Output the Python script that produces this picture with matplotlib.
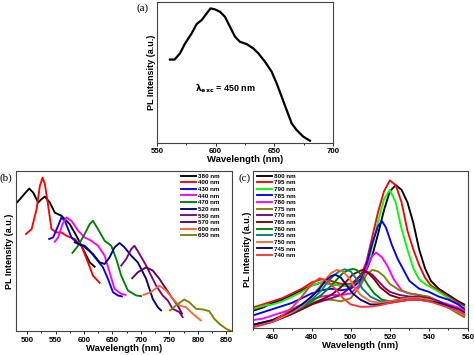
import matplotlib
matplotlib.use('Agg')
import matplotlib.pyplot as plt
from matplotlib.ticker import MultipleLocator

plt.rcParams['font.family'] = ['Liberation Sans', 'DejaVu Sans']
plt.rcParams['font.weight'] = 'bold'
plt.rcParams['mathtext.fontset'] = 'dejavusans'

# ---- panel (a): PL spectrum, excitation 450 nm ----
a_wl = [561, 565, 569.6, 573.9, 579.5, 583.8, 588.1, 592.3, 595.7, 599.4, 603.7, 607.9,
        612.2, 616.5, 620.7, 626.4, 632.1, 636.4, 642.1, 647.7, 652, 656.3, 660.5,
        664.8, 669, 674.7, 680.4]
a_pl = [59, 59, 63.4, 70.4, 77.5, 84.2, 87, 91.7, 95.3, 94.6, 92.9, 89.4,
        82.3, 75.2, 71.6, 70, 66.9, 63.4, 57.4, 50.4, 42.1, 32.6, 23.2,
        13.7, 9, 4.3, 1.4]

# ---- panel (b): PL spectra at different excitation wavelengths ----
b_labels = ['380 nm', '400 nm', '430 nm', '440 nm', '470 nm', '520 nm',
            '550 nm', '570 nm', '600 nm', '650 nm']
b_colors = ['#000000', '#ff0000', '#0000ff', '#ff00ff', '#008000', '#000080',
            '#800080', '#5c005c', '#ff6633', '#808000']
b_wl = [
    [480, 487.5, 496.3, 503.8, 510.8, 519.6, 525.4, 531.2, 540, 548.7, 560.4, 575, 586.7, 598.3, 610, 618.7],
    [498, 508, 516.7, 522.5, 527.2, 531.3, 537.1, 542.9, 551.7, 560.4, 569.2, 583.7, 595.4, 607, 615.8, 627.5],
    [538.8, 545.8, 554.6, 560.4, 566.2, 572.1, 577.9, 589.6, 601.2, 610, 621.7, 633.3, 642.1, 650.8, 659.6, 666.6],
    [548.7, 554.6, 562.2, 569.2, 577.9, 589.6, 601.2, 612.9, 624.6, 636.2, 645, 653.7, 665.4, 673],
    [579.7, 589.6, 601.2, 610, 615.8, 624.6, 636.2, 647.9, 656.7, 665.4, 677.1, 691.7, 700.4],
    [583.7, 598.3, 615.8, 627.5, 636.2, 645, 653.7, 662.5, 671.2, 682.9, 694.6, 709.2, 720.8, 729.6, 735.4],
    [665.4, 674.2, 682.9, 688.7, 697.5, 709.2, 717.9, 726.7, 738.3, 747.1, 755.8, 767.5, 773.3],
    [684.7, 694.6, 709.2, 720.8, 732.5, 744.2, 755.8, 764.6, 772.2],
    [704.5, 717.9, 732.5, 744.2, 755.8, 767.5, 779.2, 790.8, 805.4],
    [751.2, 761.7, 776.2, 785, 796.7, 808.3, 820, 828.7, 837.5, 849.2, 858],
]
b_pl = [
    [79.5, 82.4, 86.1, 89, 86.5, 80.3, 82.4, 84, 80.3, 74, 72, 66.8, 59.5, 51.2, 42.9, 40.2],
    [60.6, 63.7, 76.1, 90.7, 95.9, 91.7, 78.2, 63.7, 61.6, 61.6, 59.5, 57.5, 53.3, 42.9, 34.6, 30.1],
    [57.5, 58.5, 65.8, 71, 68.9, 63.7, 58.5, 54.4, 53.3, 50.2, 45, 39.8, 32.6, 24.3, 22.2, 21.6],
    [55.8, 58.5, 66.8, 71, 68.9, 62.7, 58.5, 56.4, 53.3, 47.1, 36.7, 26.3, 23.2, 22.6],
    [48.8, 53.3, 60.6, 66.8, 68.9, 63.7, 56.4, 53.3, 45, 34.6, 25.3, 22.2, 21.8],
    [55.4, 53.3, 48.1, 42.9, 41.9, 46.1, 52.3, 55, 52.3, 47.1, 42.9, 32.6, 20.1, 14.9, 12.9],
    [40.9, 45, 51.2, 53.3, 48.1, 40.9, 34.6, 28.4, 22.2, 19.1, 13.9, 11.8, 8.7],
    [33, 36.7, 39.8, 37.8, 32.6, 26.3, 20.1, 16, 10.8],
    [22.6, 24.3, 28.4, 25.3, 20.1, 16, 14.9, 10.8, 6.6],
    [12.9, 16, 19.7, 18, 13.9, 13.5, 12.4, 7.7, 4.6, 1.5, 0],
]

# ---- panel (c): PL spectra, excitation 740-800 nm ----
c_labels = ['800 nm', '795 nm', '790 nm', '785 nm', '780 nm', '775 nm', '770 nm',
            '765 nm', '760 nm', '755 nm', '750 nm', '745 nm', '740 nm']
c_colors = ['#000000', '#ff0000', '#00ff00', '#0000ff', '#ff00ff', '#808000', '#800080',
            '#800000', '#008000', '#008080', '#ff6633', '#000080', '#ff3333']
c_wl = [
    [450, 455, 460, 465, 470, 475, 480, 485, 490, 495, 500, 505, 508, 511, 514, 517, 520, 523, 526, 529, 532, 535, 538, 541, 545, 550, 555, 558],
    [450, 455, 460, 465, 470, 475, 480, 485, 490, 495, 500, 505, 508, 511, 514, 517, 520, 523, 526, 529, 532, 535, 538, 541, 545, 550, 555, 558],
    [450, 455, 460, 465, 470, 475, 480, 485, 490, 495, 500, 505, 508, 511, 514, 517, 520, 523, 526, 529, 532, 535, 538, 541, 545, 550, 555, 558],
    [450, 455, 460, 465, 470, 475, 480, 485, 490, 495, 500, 505, 508, 511, 514, 516, 518, 521, 524, 527, 530, 535, 540, 545, 550, 555, 558],
    [450, 455, 460, 465, 470, 475, 480, 485, 490, 495, 500, 505, 508, 511, 513, 516, 519, 522, 526, 530, 535, 540, 545, 550, 555, 558],
    [450, 460, 470, 475, 480, 485, 490, 495, 500, 505, 508, 511, 514, 517, 520, 525, 530, 535, 540, 545, 550, 555, 558],
    [450, 460, 470, 475, 480, 485, 490, 495, 500, 503, 506, 508, 511, 514, 517, 520, 525, 530, 535, 540, 545, 550, 555, 558],
    [450, 460, 470, 475, 480, 485, 490, 495, 498, 501, 504, 506, 509, 512, 515, 520, 525, 530, 535, 540, 545, 550, 555, 558],
    [450, 460, 470, 475, 480, 485, 490, 493, 496, 499, 501, 503, 506, 509, 512, 516, 520, 525, 530, 535, 540, 545, 550, 555, 558],
    [450, 460, 470, 475, 480, 485, 488, 491, 494, 497, 500, 503, 506, 510, 515, 520, 525, 530, 535, 540, 545, 550, 555, 558],
    [450, 460, 470, 475, 480, 484, 487, 490, 493, 496, 499, 502, 505, 510, 515, 520, 525, 530, 535, 540, 545, 550, 555, 558],
    [450, 460, 470, 475, 480, 484, 487, 490, 492, 495, 498, 501, 505, 510, 515, 520, 525, 530, 535, 540, 545, 550, 555, 558],
    [450, 455, 460, 465, 470, 475, 480, 484, 488, 492, 496, 500, 505, 510, 515, 520, 525, 530, 535, 540, 545, 550, 555, 558],
]
c_pl = [
    [11, 13, 16, 18, 21, 24, 27, 29, 28, 27, 27, 31, 37, 46, 60, 75, 87, 91, 88, 80, 67, 50, 38, 30, 25, 21, 17, 15],
    [13, 15, 17, 19, 22, 25, 29, 31, 30, 28, 28, 33, 42, 58, 74, 87, 94, 91, 80, 62, 50, 40, 32, 27, 24, 20, 16, 14],
    [12, 14, 15, 17, 20, 23, 27, 29, 28, 27, 27, 30, 38, 52, 68, 82, 88, 80, 63, 50, 38, 31, 28, 26, 23, 19, 15, 13],
    [8, 10, 12, 14, 16, 19, 22, 24, 25, 24, 25, 30, 40, 54, 65, 68, 64, 53, 44, 37, 30, 25, 23, 20, 18, 15, 12],
    [5, 6, 8, 10, 12, 15, 18, 20, 21, 21, 22, 28, 38, 46, 48, 45, 39, 31, 24, 22, 21, 19, 17, 15, 13, 11],
    [2, 5, 10, 13, 16, 18, 18, 17, 19, 27, 34, 37, 36, 33, 28, 24, 22, 21, 20, 17, 13, 9, 7],
    [1, 4, 9, 12, 15, 17, 19, 21, 26, 31, 35, 36, 34, 30, 26, 23, 21, 20, 20, 19, 17, 14, 11, 9],
    [1, 4, 9, 12, 15, 18, 21, 26, 30, 34, 36, 37, 35, 31, 26, 21, 19, 19, 19, 18, 16, 13, 10, 8],
    [2, 5, 10, 13, 17, 21, 27, 31, 35, 37, 37.6, 37, 33, 27, 22, 18, 17, 18, 19, 19, 18, 16, 13, 10, 9],
    [1, 4, 10, 13, 18, 24, 29, 33, 36, 37.4, 36, 31, 25, 20, 17, 17, 18, 19, 19, 18, 16, 13, 10, 8],
    [1, 4, 10, 14, 20, 26, 31, 35, 37, 36, 32, 26, 21, 17, 16, 17, 18, 19, 19, 18, 16, 13, 10, 8],
    [2, 5, 11, 15, 20, 25, 30, 33, 34, 32, 27, 22, 18, 15, 15, 16, 17, 18, 18, 17, 16, 14, 12, 10],
    [0.5, 2, 4, 8, 13, 20, 28, 31.7, 30, 25, 19, 15, 13.5, 13.6, 14.5, 16, 17, 18, 18, 17, 15, 13, 11, 9],
]


def style_axes(ax, major, minor):
    ax.set_yticks([])
    ax.xaxis.set_major_locator(MultipleLocator(major))
    ax.xaxis.set_minor_locator(MultipleLocator(minor))
    ax.tick_params(axis='x', which='major', direction='out', length=2.5, width=0.6,
                   pad=1.5, labelsize=5.7)
    ax.tick_params(axis='x', which='minor', direction='out', length=1.5, width=0.6)
    for s in ax.spines.values():
        s.set_linewidth(0.8)
        s.set_color('#444444')
    ax.set_xlabel('Wavelength (nm)', fontsize=6.8, fontweight='bold', labelpad=0)
    ax.set_ylabel('PL Intensity (a.u.)', fontsize=6.5, fontweight='bold', labelpad=1)
    ax.set_ylim(0, 100)


fig = plt.figure(figsize=(4.74, 3.55), dpi=100)

ax_a = fig.add_axes([0.3312, 0.598, 0.3713, 0.397])
ax_b = fig.add_axes([0.0331, 0.0676, 0.4563, 0.4507])
ax_c = fig.add_axes([0.5338, 0.0761, 0.4536, 0.4423])

# (a)
ax_a.plot(a_wl, a_pl, color='black', lw=1.6, solid_joinstyle='round')
ax_a.set_xlim(550, 700)
style_axes(ax_a, 50, 25)
ax_a.text(582.4, 38, r'$\boldsymbol{\lambda}_{\mathbf{exc}}$ = 450 nm', fontsize=6.5,
          fontweight='bold', va='center')

# (b)
for wl, pl, c, lab in zip(b_wl, b_pl, b_colors, b_labels):
    ax_b.plot(wl, pl, color=c, lw=1.35, label=lab, solid_joinstyle='round')
ax_b.set_xlim(480, 860)
style_axes(ax_b, 50, 25)
ax_b.legend(loc='upper left', bbox_to_anchor=(0.765, 0.985), frameon=False,
            fontsize=4.5, labelspacing=0.2, handlelength=2.4, handletextpad=0.25,
            borderpad=0, borderaxespad=0)

# (c)
for wl, pl, c, lab in zip(c_wl, c_pl, c_colors, c_labels):
    ax_c.plot(wl, pl, color=c, lw=1.35, label=lab, solid_joinstyle='round')
ax_c.set_xlim(450, 560)
style_axes(ax_c, 20, 10)
ax_c.legend(loc='upper left', bbox_to_anchor=(0.02, 0.985), frameon=False,
            fontsize=4.5, labelspacing=0.2, handlelength=2.4, handletextpad=0.25,
            borderpad=0, borderaxespad=0)

# panel letters
fig.text(0.288, 0.97, '(a)', family='Liberation Serif', fontweight='normal', fontsize=8)
fig.text(0.0, 0.49, '(b)', family='Liberation Serif', fontweight='normal', fontsize=8)
fig.text(0.503, 0.49, '(c)', family='Liberation Serif', fontweight='normal', fontsize=8)

fig.savefig('out.png', dpi=100)
